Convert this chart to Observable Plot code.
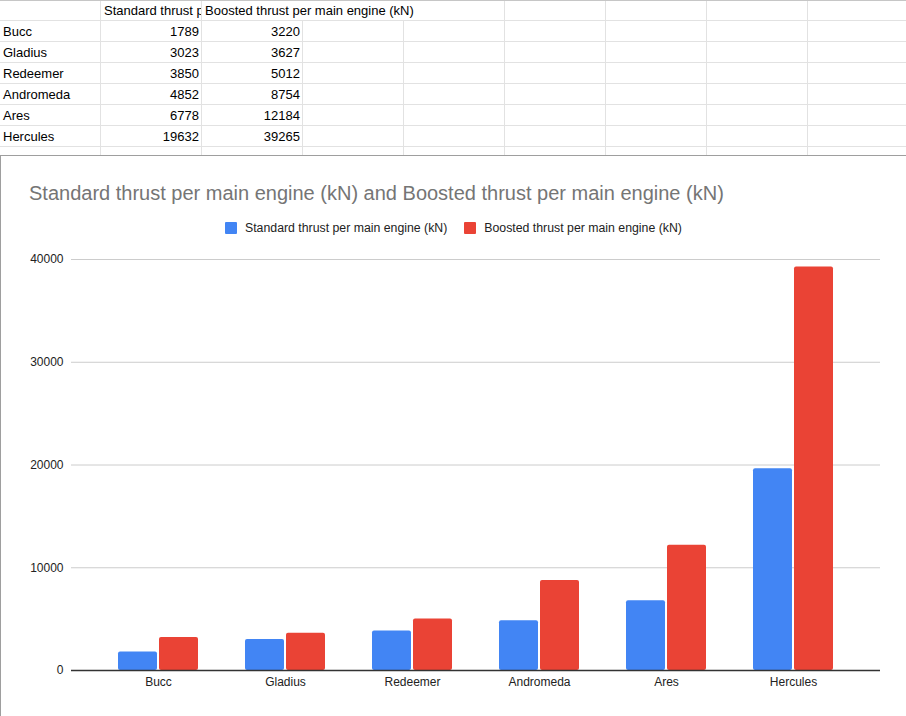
<!DOCTYPE html>
<html>
<head>
<meta charset="utf-8">
<script src="https://cdn.jsdelivr.net/npm/d3@7"></script>
<script src="https://cdn.jsdelivr.net/npm/@observablehq/plot@0.6"></script>
<style>
  html, body { margin: 0; padding: 0; background: #fff; }
  body { width: 906px; height: 716px; position: relative; overflow: hidden;
         font-family: "Liberation Sans", Arial, sans-serif; }
  .cell { position: absolute; box-sizing: border-box; height: 21px;
          border-right: 1px solid #e2e2e2; border-bottom: 1px solid #e2e2e2;
          font-size: 13px; line-height: 20px; padding: 1px 3px 0 3px;
          white-space: nowrap; overflow: hidden; color: #000; }
  .num { text-align: right; padding-right: 2px; }
  #topline { position: absolute; left: 0; top: 0; width: 906px; height: 1px; background: #c6c6c6; }
  #chartbox { position: absolute; left: 0; top: 155px; width: 920px; height: 600px;
              background: #fff; border-top: 1px solid #9e9e9e; border-left: 1px solid #9e9e9e; box-sizing: border-box; }
  #title { position: absolute; left: 29px; top: 184px; font-size: 20px; line-height: 18px;
           color: #757575; white-space: nowrap; }
  #legend { position: absolute; left: 225px; top: 220px; display: flex; align-items: center;
            font-size: 12.3px; color: #222; white-space: nowrap; height: 16px; }
  .sw { width: 12px; height: 12px; border-radius: 1px; margin-right: 8px; }
  .item { display: flex; align-items: center; }
  #plot { position: absolute; left: 0; top: 245px; }
</style>
</head>
<body>
<div id="sheet"></div>
<div id="topline"></div>
<div id="chartbox"></div>
<div id="title"></div>
<div id="legend"></div>
<div id="plot"></div>
<script>
// ---- data ----
const names = ["Bucc", "Gladius", "Redeemer", "Andromeda", "Ares", "Hercules"];
const standard = [1789, 3023, 3850, 4852, 6778, 19632];
const boosted = [3220, 3627, 5012, 8754, 12184, 39265];
const seriesNames = ["Standard thrust per main engine (kN)", "Boosted thrust per main engine (kN)"];
const seriesColors = ["#4285F4", "#EA4335"];
const yTicks = [0, 10000, 20000, 30000, 40000];
const chartTitle = "Standard thrust per main engine (kN) and Boosted thrust per main engine (kN)";

// ---- spreadsheet grid ----
const sheet = document.getElementById("sheet");
const colW = 101, rowH = 21, nCols = 9, nRows = 8;
function cell(r, c, text, cls, span) {
  const d = document.createElement("div");
  d.className = "cell" + (cls ? " " + cls : "");
  d.style.left = (c * colW) + "px";
  d.style.top = (r * rowH) + "px";
  d.style.width = (colW * (span || 1)) + "px";
  if (text !== undefined) d.textContent = text;
  sheet.appendChild(d);
}
// header row
cell(0, 0, "");
cell(0, 1, seriesNames[0]);
cell(0, 2, seriesNames[1], "", 3);
for (let c = 5; c < nCols; c++) cell(0, c, "");
// data rows
for (let r = 1; r < nRows; r++) {
  const i = r - 1;
  cell(r, 0, i < names.length ? names[i] : "");
  cell(r, 1, i < names.length ? String(standard[i]) : "", "num");
  cell(r, 2, i < names.length ? String(boosted[i]) : "", "num");
  for (let c = 3; c < nCols; c++) cell(r, c, "");
}

// ---- title and legend ----
document.getElementById("title").textContent = chartTitle;
const legend = document.getElementById("legend");
seriesNames.forEach((s, k) => {
  const it = document.createElement("div");
  it.className = "item";
  if (k > 0) it.style.marginLeft = "17px";
  const sw = document.createElement("div");
  sw.className = "sw";
  sw.style.background = seriesColors[k];
  const t = document.createElement("span");
  t.textContent = s;
  it.appendChild(sw); it.appendChild(t);
  legend.appendChild(it);
});

// ---- chart ----
const rows = names.map((n, i) => ({name: n, standard: standard[i], boosted: boosted[i]}));
const chart = Plot.plot({
  width: 906,
  height: 471,
  marginLeft: 71,
  marginRight: 26,
  marginTop: 14,
  marginBottom: 46,
  style: {fontFamily: "'Liberation Sans', Arial, sans-serif", fontSize: "12px", color: "#222", background: "transparent"},
  x: {domain: names, paddingInner: 0.372, paddingOuter: 0.36, align: 0.5, label: null},
  y: {domain: [0, 40000], label: null},
  marks: [
    Plot.ruleY(yTicks.slice(1), {stroke: "#cccccc", strokeWidth: 1}),
    Plot.barY(rows, {x: "name", y: "standard", fill: seriesColors[0], insetRight: 41, rx: 2}),
    Plot.barY(rows, {x: "name", y: "boosted", fill: seriesColors[1], insetLeft: 41, rx: 2}),
    Plot.ruleY([0], {stroke: "#333333", strokeWidth: 1.3}),
    Plot.axisY({ticks: yTicks, tickSize: 0, tickPadding: 8, tickFormat: d3.format("d"), label: null}),
    Plot.axisX({tickSize: 0, tickPadding: 7, label: null})
  ]
});
document.getElementById("plot").appendChild(chart);
</script>
</body>
</html>
